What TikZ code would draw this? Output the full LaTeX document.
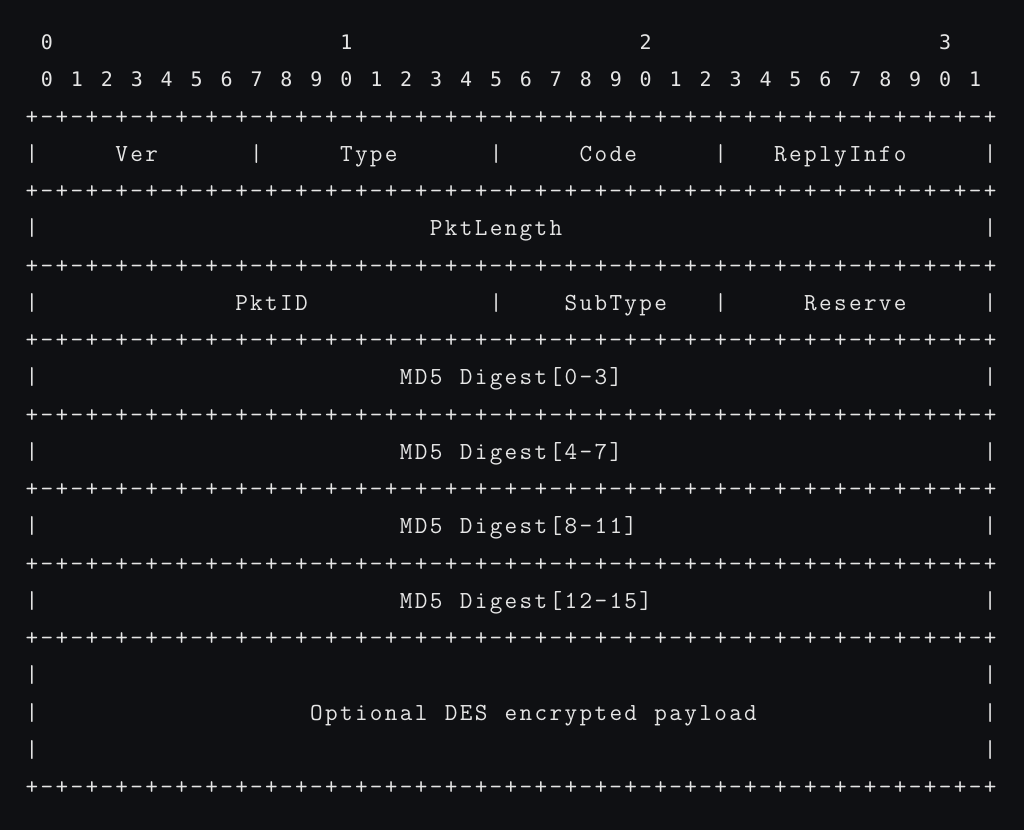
\documentclass[tikz,border=0pt]{standalone}
\usepackage{fontspec}
\newfontfamily\digitfont{DejaVu Sans Mono}
\definecolor{bg}{HTML}{0F1013}
\definecolor{fg}{HTML}{E6E6E6}
\newlength\cw \setlength\cw{14.97pt}
\def\mono#1{\monoA#1\relax}
\def\monoA#1{\ifx#1\relax\else\ifx#1_\hbox to\cw{\hss}\else\hbox to\cw{\hss#1\hss}\fi\expandafter\monoA\fi}
\tikzset{
  txt/.style={anchor=base west, inner sep=0pt, outer sep=0pt, text=fg,
    font=\fontsize{24.5}{24.5}\selectfont\ttfamily\addfontfeature{FakeStretch=1.12}},
  dig/.style={anchor=base west, inner sep=0pt, outer sep=0pt, text=fg,
    font=\fontsize{20}{20}\selectfont\digitfont}
}
\newcommand\piece[5]{\node[#1] (#2) at ({24.5+14.97*(#3)},{-(49.5+37.25*(#4))}) {\mono{#5}};}
\begin{document}
\begin{tikzpicture}[x=1pt,y=1pt]
\fill[bg] (0,0) rectangle (1024,-830);
\useasboundingbox (0,0) rectangle (1024,-830);
% tens row
\piece{dig}{t0}{1}{0}{0}
\piece{dig}{t1}{21}{0}{1}
\piece{dig}{t2}{41}{0}{2}
\piece{dig}{t3}{61}{0}{3}
% units row
\foreach \k in {0,...,31}{
  \pgfmathtruncatemacro\d{mod(\k,10)}
  \pgfmathtruncatemacro\c{1+2*\k}
  \piece{dig}{u\k}{\c}{1}{\d}
}
% separators
\foreach \r in {2,4,6,8,10,12,14,16,20}{
  \piece{txt}{sep\r}{0}{\r}{+-+-+-+-+-+-+-+-+-+-+-+-+-+-+-+-+-+-+-+-+-+-+-+-+-+-+-+-+-+-+-+-+}
}
% outer bars
\foreach \r in {3,5,7,9,11,13,15,17,18,19}{
  \piece{txt}{lb\r}{0}{\r}{|}
  \piece{txt}{rb\r}{64}{\r}{|}
}
% row 3
\piece{txt}{ver}{6}{3}{Ver}
\piece{txt}{b3a}{15}{3}{|}
\piece{txt}{type}{21}{3}{Type}
\piece{txt}{b3b}{31}{3}{|}
\piece{txt}{code}{37}{3}{Code}
\piece{txt}{b3c}{46}{3}{|}
\piece{txt}{reply}{50}{3}{ReplyInfo}
% row 5
\piece{txt}{pktlen}{27}{5}{PktLength}
% row 7
\piece{txt}{pktid}{14}{7}{PktID}
\piece{txt}{b7a}{31}{7}{|}
\piece{txt}{subtype}{36}{7}{SubType}
\piece{txt}{b7b}{46}{7}{|}
\piece{txt}{reserve}{52}{7}{Reserve}
% digests
\piece{txt}{md0}{25}{9}{MD5_Digest[0-3]}
\piece{txt}{md1}{25}{11}{MD5_Digest[4-7]}
\piece{txt}{md2}{25}{13}{MD5_Digest[8-11]}
\piece{txt}{md3}{25}{15}{MD5_Digest[12-15]}
% payload
\piece{txt}{payload}{19}{18}{Optional_DES_encrypted_payload}
\end{tikzpicture}
\end{document}
